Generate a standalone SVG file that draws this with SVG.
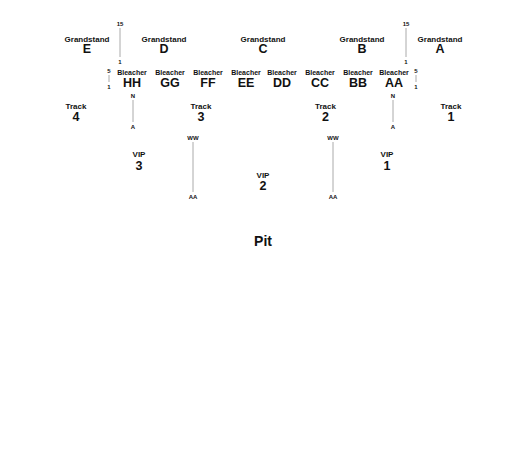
<svg xmlns="http://www.w3.org/2000/svg" width="525" height="450" viewBox="0 0 525 450">
<style>
text{font-family:"Liberation Sans",Arial,sans-serif;font-weight:bold;fill:#111;text-anchor:middle}
.t{font-size:8px}
.b{font-size:7px}
.big{font-size:12.5px}
.s{font-size:6px}
.pit{font-size:14px}
line{stroke:#aaa;stroke-width:1}
</style>
<rect width="525" height="450" fill="#fff"/>
<g id="connectors">
<line x1="120" y1="28" x2="120" y2="57"/>
<line x1="406" y1="28" x2="406" y2="57"/>
<line x1="109" y1="75" x2="109" y2="82"/>
<line x1="416" y1="75" x2="416" y2="82"/>
<line x1="133" y1="100" x2="133" y2="122"/>
<line x1="393" y1="100" x2="393" y2="122"/>
<line x1="193" y1="142" x2="193" y2="192"/>
<line x1="333" y1="142" x2="333" y2="192"/>
</g>
<g id="labels">
<text class="s" x="120" y="26">15</text><text class="s" x="120" y="64">1</text>
<text class="s" x="406" y="26">15</text><text class="s" x="406" y="64">1</text>
<text class="s" x="109" y="73">5</text><text class="s" x="109" y="89">1</text>
<text class="s" x="416" y="73">5</text><text class="s" x="416" y="89">1</text>
<text class="s" x="133" y="98">N</text><text class="s" x="133" y="129">A</text>
<text class="s" x="393" y="98">N</text><text class="s" x="393" y="129">A</text>
<text class="s" x="193" y="139.5">WW</text><text class="s" x="193" y="199">AA</text>
<text class="s" x="333" y="139.5">WW</text><text class="s" x="333" y="199">AA</text>
</g>
<g id="grandstand-E"><text class="t" x="87" y="41.5">Grandstand</text><text class="big" x="87" y="53">E</text></g>
<g id="grandstand-D"><text class="t" x="164" y="41.5">Grandstand</text><text class="big" x="164" y="53">D</text></g>
<g id="grandstand-C"><text class="t" x="263" y="41.5">Grandstand</text><text class="big" x="263" y="53">C</text></g>
<g id="grandstand-B"><text class="t" x="362" y="41.5">Grandstand</text><text class="big" x="362" y="53">B</text></g>
<g id="grandstand-A"><text class="t" x="440" y="41.5">Grandstand</text><text class="big" x="440" y="53">A</text></g>
<g id="bleacher-HH"><text class="b" x="132" y="74.5">Bleacher</text><text class="big" x="132" y="86.5">HH</text></g>
<g id="bleacher-GG"><text class="b" x="170" y="74.5">Bleacher</text><text class="big" x="170" y="86.5">GG</text></g>
<g id="bleacher-FF"><text class="b" x="208" y="74.5">Bleacher</text><text class="big" x="208" y="86.5">FF</text></g>
<g id="bleacher-EE"><text class="b" x="246" y="74.5">Bleacher</text><text class="big" x="246" y="86.5">EE</text></g>
<g id="bleacher-DD"><text class="b" x="282" y="74.5">Bleacher</text><text class="big" x="282" y="86.5">DD</text></g>
<g id="bleacher-CC"><text class="b" x="320" y="74.5">Bleacher</text><text class="big" x="320" y="86.5">CC</text></g>
<g id="bleacher-BB"><text class="b" x="358" y="74.5">Bleacher</text><text class="big" x="358" y="86.5">BB</text></g>
<g id="bleacher-AA"><text class="b" x="394" y="74.5">Bleacher</text><text class="big" x="394" y="86.5">AA</text></g>
<g id="track-4"><text class="t" x="76" y="109">Track</text><text class="big" x="76" y="120.5">4</text></g>
<g id="track-3"><text class="t" x="201" y="109">Track</text><text class="big" x="201" y="120.5">3</text></g>
<g id="track-2"><text class="t" x="325.5" y="109">Track</text><text class="big" x="325.5" y="120.5">2</text></g>
<g id="track-1"><text class="t" x="451" y="109">Track</text><text class="big" x="451" y="120.5">1</text></g>
<g id="vip-3"><text class="t" x="139" y="157">VIP</text><text class="big" x="139" y="169.5">3</text></g>
<g id="vip-2"><text class="t" x="263" y="178">VIP</text><text class="big" x="263" y="190">2</text></g>
<g id="vip-1"><text class="t" x="387" y="157">VIP</text><text class="big" x="387" y="169.5">1</text></g>
<g id="pit"><text class="pit" x="263" y="246">Pit</text></g>
</svg>
